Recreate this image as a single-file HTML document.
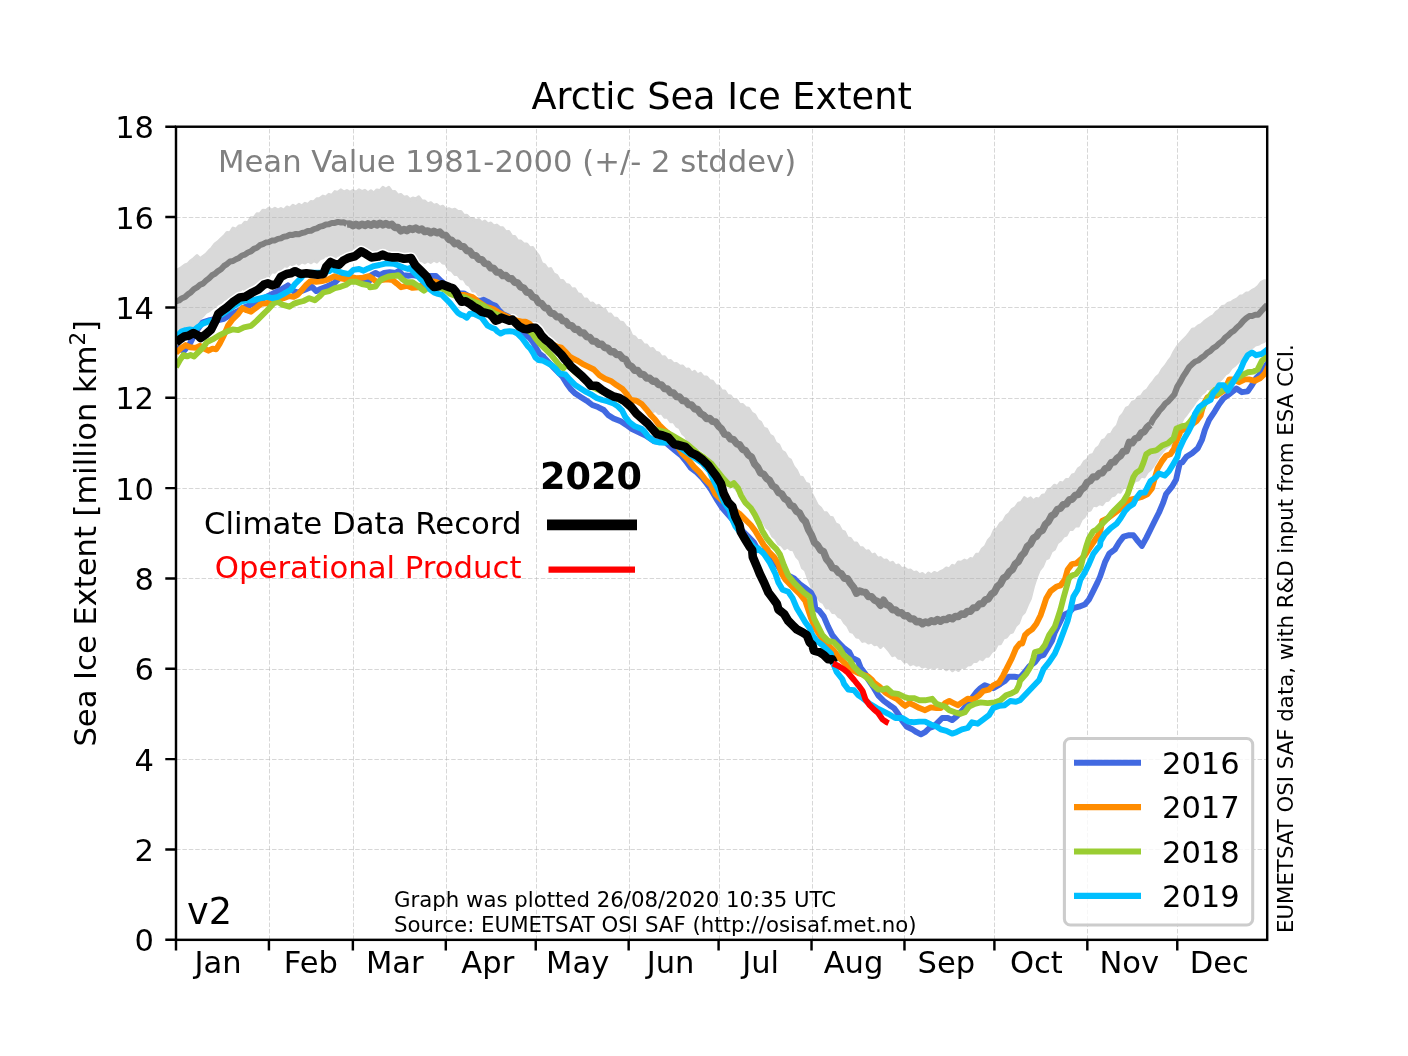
<!DOCTYPE html><html><head><meta charset="utf-8"><title>Arctic Sea Ice Extent</title><style>html,body{margin:0;padding:0;background:#fff}svg{display:block;will-change:transform}text{font-family:"DejaVu Sans","Liberation Sans",sans-serif}</style></head><body>
<svg width="1408" height="1056" viewBox="0 0 1408 1056">
<rect width="1408" height="1056" fill="#fff"/>
<defs><clipPath id="c"><rect x="176.00" y="126.72" width="1091.20" height="813.12"/></clipPath></defs>
<g clip-path="url(#c)">
<path d="M176.0 270.8 L179.0 269.0 L182.0 267.3 L185.0 265.0 L188.0 263.8 L191.0 260.6 L194.0 258.4 L197.0 255.6 L200.0 258.6 L203.0 256.4 L206.0 254.3 L209.0 250.9 L212.0 248.0 L215.0 244.0 L218.0 241.8 L221.0 238.9 L224.0 236.1 L227.0 232.5 L230.0 232.7 L233.0 228.1 L236.0 229.2 L239.0 226.0 L242.0 225.6 L244.9 222.2 L247.9 222.7 L250.9 217.8 L253.9 217.8 L256.9 213.8 L259.9 214.0 L262.9 210.2 L265.9 210.6 L268.9 208.3 L271.9 210.2 L274.9 208.3 L277.9 210.1 L280.9 208.6 L283.9 210.3 L286.9 207.0 L289.9 208.3 L292.9 205.2 L295.9 206.8 L298.9 204.3 L301.9 206.1 L304.9 203.3 L307.9 204.5 L310.9 201.5 L313.9 201.9 L316.9 198.8 L319.9 198.5 L322.9 196.1 L325.9 197.1 L328.9 194.3 L331.9 195.3 L334.9 191.6 L337.9 192.4 L340.9 189.9 L343.9 192.0 L346.9 190.6 L349.9 192.4 L352.9 190.4 L355.9 192.3 L358.9 189.9 L361.9 191.6 L364.9 190.3 L367.9 192.9 L370.9 190.8 L373.9 193.1 L376.9 189.9 L379.9 190.8 L382.8 187.4 L385.8 189.2 L388.8 187.4 L391.8 191.7 L394.8 191.5 L397.8 195.3 L400.8 194.4 L403.8 197.3 L406.8 196.6 L409.8 199.6 L412.8 198.0 L415.8 199.0 L418.8 196.8 L421.8 200.9 L424.8 201.0 L427.8 204.1 L430.8 202.7 L433.8 205.5 L436.8 204.5 L439.8 207.4 L442.8 206.2 L445.8 209.8 L448.8 208.7 L451.8 210.1 L454.8 209.2 L457.8 211.5 L460.8 211.4 L463.8 215.5 L466.8 215.3 L469.8 218.6 L472.8 218.5 L475.8 220.7 L478.8 219.6 L481.8 222.8 L484.8 221.1 L487.8 224.1 L490.8 223.0 L493.8 226.0 L496.8 225.1 L499.8 227.7 L502.8 227.8 L505.8 231.8 L508.8 231.5 L511.8 236.3 L514.8 236.6 L517.7 240.9 L520.7 241.1 L523.7 244.1 L526.7 243.9 L529.7 248.0 L532.7 247.5 L535.7 252.3 L538.7 256.0 L541.7 263.5 L544.7 264.9 L547.7 269.3 L550.7 268.6 L553.7 274.0 L556.7 275.3 L559.7 280.5 L562.7 280.4 L565.7 284.4 L568.7 285.0 L571.7 289.1 L574.7 288.8 L577.7 293.7 L580.7 294.5 L583.7 299.3 L586.7 299.1 L589.7 303.5 L592.7 303.1 L595.7 306.3 L598.7 305.3 L601.7 308.7 L604.7 309.1 L607.7 314.3 L610.7 314.1 L613.7 318.1 L616.7 318.3 L619.7 322.1 L622.7 322.4 L625.7 326.7 L628.7 328.5 L631.7 335.6 L634.7 336.8 L637.7 340.6 L640.7 340.5 L643.7 344.7 L646.7 345.1 L649.7 349.1 L652.7 348.4 L655.6 352.2 L658.6 353.0 L661.6 357.1 L664.6 356.7 L667.6 360.9 L670.6 360.6 L673.6 363.8 L676.6 363.5 L679.6 366.2 L682.6 365.9 L685.6 369.4 L688.6 368.9 L691.6 373.2 L694.6 371.4 L697.6 374.9 L700.6 373.4 L703.6 377.1 L706.6 376.9 L709.6 380.7 L712.6 381.3 L715.6 385.7 L718.6 386.0 L721.6 390.9 L724.6 390.9 L727.6 395.5 L730.6 396.0 L733.6 400.3 L736.6 400.2 L739.6 404.7 L742.6 404.4 L745.6 407.7 L748.6 408.3 L751.6 413.0 L754.6 414.7 L757.6 420.3 L760.6 422.2 L763.6 428.2 L766.6 429.2 L769.6 435.0 L772.6 436.7 L775.6 443.1 L778.6 444.7 L781.6 451.1 L784.6 452.8 L787.6 458.2 L790.5 460.0 L793.5 466.8 L796.5 470.4 L799.5 477.1 L802.5 477.6 L805.5 483.2 L808.5 484.1 L811.5 493.7 L814.5 499.5 L817.5 505.4 L820.5 507.9 L823.5 512.6 L826.5 512.8 L829.5 517.1 L832.5 517.8 L835.5 523.9 L838.5 525.1 L841.5 530.8 L844.5 531.9 L847.5 538.1 L850.5 538.5 L853.5 543.0 L856.5 542.9 L859.5 547.6 L862.5 547.7 L865.5 551.4 L868.5 550.8 L871.5 555.1 L874.5 554.1 L877.5 558.3 L880.5 557.6 L883.5 560.6 L886.5 560.1 L889.5 563.4 L892.5 562.3 L895.5 566.1 L898.5 565.0 L901.5 568.7 L904.5 567.9 L907.5 570.4 L910.5 570.0 L913.5 572.7 L916.5 572.0 L919.5 574.8 L922.5 573.5 L925.5 576.2 L928.4 573.0 L931.4 575.0 L934.4 572.5 L937.4 573.8 L940.4 571.7 L943.4 570.5 L946.4 568.0 L949.4 568.9 L952.4 565.3 L955.4 566.4 L958.4 561.9 L961.4 562.3 L964.4 560.1 L967.4 561.3 L970.4 558.5 L973.4 559.1 L976.4 554.3 L979.4 554.3 L982.4 548.8 L985.4 546.3 L988.4 540.2 L991.4 537.0 L994.4 530.1 L997.4 528.6 L1000.4 523.4 L1003.4 521.5 L1006.4 516.0 L1009.4 513.6 L1012.4 509.2 L1015.4 507.6 L1018.4 503.3 L1021.4 502.4 L1024.4 497.7 L1027.4 499.8 L1030.4 497.9 L1033.4 501.0 L1036.4 498.5 L1039.4 499.1 L1042.4 495.3 L1045.4 494.7 L1048.4 489.6 L1051.4 488.8 L1054.4 485.2 L1057.4 486.7 L1060.4 482.4 L1063.3 483.3 L1066.3 479.5 L1069.3 479.6 L1072.3 475.0 L1075.3 474.1 L1078.3 468.7 L1081.3 466.7 L1084.3 461.8 L1087.3 459.7 L1090.3 455.1 L1093.3 454.5 L1096.3 448.7 L1099.3 446.4 L1102.3 440.7 L1105.3 439.3 L1108.3 434.8 L1111.3 434.1 L1114.3 428.8 L1117.3 425.7 L1120.3 417.1 L1123.3 413.8 L1126.3 408.2 L1129.3 406.9 L1132.3 402.2 L1135.3 401.1 L1138.3 397.3 L1141.3 396.4 L1144.3 391.7 L1147.3 389.9 L1150.3 385.2 L1153.3 381.6 L1156.3 377.5 L1159.3 375.0 L1162.3 369.4 L1165.3 366.0 L1168.3 361.5 L1171.3 357.6 L1174.3 351.5 L1177.3 346.7 L1180.3 343.3 L1183.3 340.0 L1186.3 337.1 L1189.3 333.4 L1192.3 329.3 L1195.3 328.6 L1198.3 325.9 L1201.2 324.6 L1204.2 321.8 L1207.2 319.5 L1210.2 317.4 L1213.2 315.9 L1216.2 312.3 L1219.2 310.2 L1222.2 306.4 L1225.2 305.9 L1228.2 303.2 L1231.2 302.5 L1234.2 300.3 L1237.2 299.0 L1240.2 296.0 L1243.2 295.7 L1246.2 293.0 L1249.2 292.7 L1252.2 290.3 L1255.2 288.9 L1258.2 286.3 L1261.2 282.4 L1264.2 280.8 L1267.2 281.0 L1267.2 338.8 L1264.2 341.5 L1261.2 342.5 L1258.2 344.4 L1255.2 345.1 L1252.2 347.5 L1249.2 348.9 L1246.2 352.3 L1243.2 356.1 L1240.2 359.9 L1237.2 363.0 L1234.2 365.9 L1231.2 368.1 L1228.2 372.4 L1225.2 374.3 L1222.2 378.1 L1219.2 381.0 L1216.2 384.0 L1213.2 387.7 L1210.2 389.3 L1207.2 387.9 L1204.2 392.0 L1201.2 394.3 L1198.3 398.3 L1195.3 401.8 L1192.3 406.3 L1189.3 410.3 L1186.3 414.5 L1183.3 418.1 L1180.3 424.2 L1177.3 432.4 L1174.3 441.1 L1171.3 444.3 L1168.3 446.3 L1165.3 448.2 L1162.3 451.7 L1159.3 455.5 L1156.3 461.0 L1153.3 465.7 L1150.3 469.7 L1147.3 472.2 L1144.3 476.9 L1141.3 476.0 L1138.3 479.9 L1135.3 480.4 L1132.3 484.4 L1129.3 483.5 L1126.3 487.1 L1123.3 487.0 L1120.3 492.2 L1117.3 491.6 L1114.3 495.2 L1111.3 496.0 L1108.3 500.2 L1105.3 500.7 L1102.3 504.7 L1099.3 503.4 L1096.3 505.8 L1093.3 504.8 L1090.3 510.1 L1087.3 511.1 L1084.3 516.8 L1081.3 519.5 L1078.3 526.0 L1075.3 525.8 L1072.3 529.6 L1069.3 529.4 L1066.3 535.1 L1063.3 536.4 L1060.4 540.6 L1057.4 542.7 L1054.4 549.3 L1051.4 551.2 L1048.4 557.8 L1045.4 559.2 L1042.4 566.3 L1039.4 570.0 L1036.4 577.3 L1033.4 586.6 L1030.4 598.6 L1027.4 604.9 L1024.4 612.1 L1021.4 615.3 L1018.4 623.1 L1015.4 626.0 L1012.4 632.1 L1009.4 633.2 L1006.4 637.2 L1003.4 638.2 L1000.4 643.8 L997.4 644.1 L994.4 650.0 L991.4 651.8 L988.4 656.2 L985.4 656.2 L982.4 659.7 L979.4 658.3 L976.4 661.5 L973.4 661.3 L970.4 664.7 L967.4 664.9 L964.4 668.0 L961.4 666.7 L958.4 670.5 L955.4 668.4 L952.4 670.7 L949.4 667.7 L946.4 669.8 L943.4 667.1 L940.4 668.1 L937.4 666.3 L934.4 668.1 L931.4 667.0 L928.4 667.7 L925.5 665.9 L922.5 667.1 L919.5 664.3 L916.5 665.2 L913.5 663.3 L910.5 664.7 L907.5 661.2 L904.5 662.0 L901.5 658.6 L898.5 658.2 L895.5 654.6 L892.5 655.7 L889.5 651.4 L886.5 647.8 L883.5 644.4 L880.5 647.5 L877.5 644.1 L874.5 644.7 L871.5 641.8 L868.5 643.0 L865.5 640.8 L862.5 641.4 L859.5 637.4 L856.5 637.0 L853.5 632.7 L850.5 631.7 L847.5 625.6 L844.5 622.7 L841.5 617.8 L838.5 616.6 L835.5 612.7 L832.5 612.4 L829.5 608.0 L826.5 608.0 L823.5 602.8 L820.5 601.2 L817.5 597.0 L814.5 594.8 L811.5 586.3 L808.5 579.0 L805.5 570.4 L802.5 567.9 L799.5 559.6 L796.5 556.4 L793.5 549.8 L790.5 549.5 L787.6 546.8 L784.6 548.8 L781.6 545.1 L778.6 543.8 L775.6 538.5 L772.6 536.1 L769.6 529.9 L766.6 527.3 L763.6 521.9 L760.6 520.4 L757.6 514.5 L754.6 512.7 L751.6 507.1 L748.6 505.0 L745.6 499.5 L742.6 498.1 L739.6 491.8 L736.6 490.2 L733.6 484.9 L730.6 484.0 L727.6 479.0 L724.6 478.6 L721.6 472.6 L718.6 471.9 L715.6 466.5 L712.6 464.7 L709.6 459.8 L706.6 460.0 L703.6 455.2 L700.6 454.6 L697.6 449.9 L694.6 448.5 L691.6 444.0 L688.6 442.4 L685.6 436.1 L682.6 433.7 L679.6 427.7 L676.6 426.1 L673.6 421.7 L670.6 421.8 L667.6 417.1 L664.6 417.2 L661.6 413.0 L658.6 413.4 L655.6 410.1 L652.7 411.8 L649.7 408.9 L646.7 408.1 L643.7 403.7 L640.7 403.5 L637.7 398.8 L634.7 398.9 L631.7 395.3 L628.7 395.3 L625.7 390.6 L622.7 390.3 L619.7 385.6 L616.7 384.6 L613.7 380.6 L610.7 380.6 L607.7 377.4 L604.7 377.8 L601.7 374.0 L598.7 373.8 L595.7 370.3 L592.7 369.0 L589.7 365.7 L586.7 365.3 L583.7 361.6 L580.7 362.6 L577.7 358.4 L574.7 359.2 L571.7 355.3 L568.7 355.0 L565.7 351.7 L562.7 351.1 L559.7 346.2 L556.7 346.5 L553.7 341.6 L550.7 341.0 L547.7 335.9 L544.7 334.7 L541.7 330.2 L538.7 329.7 L535.7 326.0 L532.7 326.9 L529.7 323.0 L526.7 323.8 L523.7 321.6 L520.7 322.8 L517.7 319.1 L514.8 320.3 L511.8 317.4 L508.8 318.5 L505.8 315.3 L502.8 316.6 L499.8 313.1 L496.8 312.9 L493.8 307.4 L490.8 305.9 L487.8 300.8 L484.8 299.3 L481.8 295.0 L478.8 295.1 L475.8 290.7 L472.8 291.1 L469.8 285.6 L466.8 283.9 L463.8 279.0 L460.8 278.7 L457.8 274.6 L454.8 274.4 L451.8 270.5 L448.8 269.6 L445.8 263.5 L442.8 263.1 L439.8 259.5 L436.8 261.8 L433.8 260.0 L430.8 262.4 L427.8 260.7 L424.8 262.5 L421.8 260.2 L418.8 262.1 L415.8 260.6 L412.8 262.3 L409.8 259.6 L406.8 260.8 L403.8 258.6 L400.8 259.7 L397.8 257.2 L394.8 258.5 L391.8 255.8 L388.8 257.7 L385.8 254.9 L382.8 255.5 L379.9 252.6 L376.9 254.1 L373.9 251.8 L370.9 253.0 L367.9 250.8 L364.9 252.8 L361.9 251.7 L358.9 253.1 L355.9 252.4 L352.9 254.8 L349.9 253.2 L346.9 255.6 L343.9 254.2 L340.9 256.5 L337.9 254.6 L334.9 257.4 L331.9 255.3 L328.9 257.2 L325.9 255.1 L322.9 257.9 L319.9 258.7 L316.9 262.1 L313.9 260.6 L310.9 262.8 L307.9 260.9 L304.9 263.0 L301.9 261.8 L298.9 264.2 L295.9 261.9 L292.9 265.3 L289.9 263.5 L286.9 266.4 L283.9 265.7 L280.9 269.4 L277.9 269.0 L274.9 272.2 L271.9 271.7 L268.9 275.7 L265.9 275.9 L262.9 279.0 L259.9 279.1 L256.9 282.7 L253.9 283.2 L250.9 287.0 L247.9 286.5 L244.9 289.8 L242.0 288.1 L239.0 292.0 L236.0 291.8 L233.0 295.3 L230.0 295.7 L227.0 299.0 L224.0 299.4 L221.0 302.4 L218.0 303.9 L215.0 306.2 L212.0 308.6 L209.0 310.9 L206.0 312.3 L203.0 315.8 L200.0 318.3 L197.0 322.3 L194.0 324.6 L191.0 326.8 L188.0 326.8 L185.0 328.1 L182.0 328.3 L179.0 331.3 L176.0 333.7Z" fill="#d9d9d9" stroke="#d9d9d9" stroke-width="3.0" stroke-linejoin="round"/>
</g>
<path d="M269.5 939.84V126.72M353.5 939.84V126.72M446.5 939.84V126.72M536.5 939.84V126.72M629.5 939.84V126.72M719.5 939.84V126.72M812.5 939.84V126.72M904.5 939.84V126.72M994.5 939.84V126.72M1087.5 939.84V126.72M1177.5 939.84V126.72M176.00 849.5H1267.20M176.00 759.5H1267.20M176.00 669.5H1267.20M176.00 578.5H1267.20M176.00 488.5H1267.20M176.00 398.5H1267.20M176.00 307.5H1267.20M176.00 217.5H1267.20" stroke="#b0b0b0" stroke-opacity="0.5" stroke-width="1" stroke-dasharray="4.5 1.9" fill="none"/>
<g clip-path="url(#c)" fill="none" stroke-linejoin="round" stroke-linecap="butt">
<path d="M176.0 301.4 L179.0 300.5 L182.0 298.2 L185.0 297.0 L188.0 294.3 L191.0 292.2 L194.0 289.1 L197.0 287.4 L200.0 284.8 L203.0 283.6 L206.0 280.7 L209.0 278.4 L212.0 275.3 L215.0 273.8 L218.0 271.1 L221.0 269.2 L224.0 265.9 L227.0 264.1 L230.0 261.5 L233.0 261.0 L236.0 259.2 L239.0 257.9 L242.0 255.5 L244.9 254.6 L247.9 252.5 L250.9 251.4 L253.9 248.9 L256.9 247.7 L259.9 245.2 L262.9 244.2 L265.9 242.5 L268.9 242.1 L271.9 240.6 L274.9 240.4 L277.9 238.9 L280.9 238.4 L283.9 236.7 L286.9 236.3 L289.9 234.8 L292.9 234.9 L295.9 233.9 L298.9 234.2 L301.9 233.0 L304.9 232.4 L307.9 230.9 L310.9 230.8 L313.9 229.1 L316.9 228.4 L319.9 226.6 L322.9 226.0 L325.9 224.5 L328.9 224.3 L331.9 222.9 L334.9 222.9 L337.9 221.9 L340.9 222.5 L343.9 222.2 L346.9 224.1" stroke="#808080" stroke-width="6.0"/>
<path d="M346.9 224.1 L349.9 223.8 L352.9 225.7 L355.9 224.1 L358.9 225.8 L361.9 224.1 L364.9 225.6 L367.9 223.8 L370.9 225.4 L373.9 223.5 L376.9 225.0 L379.9 223.2 L382.8 225.0 L385.8 223.4 L388.8 225.2 L391.8 224.3 L394.8 227.5 L397.8 227.3 L400.8 230.9 L403.8 229.4 L406.8 230.8 L409.8 228.5 L412.8 229.5 L415.8 227.9 L418.8 230.0 L421.8 229.0 L424.8 231.7 L427.8 230.8 L430.8 232.9 L433.8 231.2 L436.8 232.9 L439.8 232.0 L442.8 235.0 L445.8 235.4 L448.8 239.4 L451.8 240.3 L454.8 243.8 L457.8 243.1 L460.8 246.4 L463.8 246.7 L466.8 250.6 L469.8 251.2 L472.8 255.2 L475.8 255.6 L478.8 259.3 L481.8 259.6 L484.8 263.4 L487.8 264.0 L490.8 267.9 L493.8 268.4 L496.8 272.2 L499.8 272.4 L502.8 275.7 L505.8 275.4 L508.8 278.6 L511.8 278.7 L514.8 282.4 L517.7 282.9 L520.7 287.0 L523.7 287.9 L526.7 292.1 L529.7 292.7 L532.7 296.8 L535.7 298.0 L538.7 302.8 L541.7 303.6 L544.7 307.6 L547.7 308.4 L550.7 313.1 L553.7 313.6 L556.7 316.9 L559.7 316.8 L562.7 320.7 L565.7 321.3 L568.7 325.3 L571.7 325.6 L574.7 329.3 L577.7 329.5 L580.7 332.9 L583.7 332.9 L586.7 336.6 L589.7 337.3 L592.7 341.2 L595.7 341.3 L598.7 344.4 L601.7 344.2 L604.7 347.7 L607.7 348.1 L610.7 351.8 L613.7 351.6 L616.7 354.7 L619.7 354.7 L622.7 358.4 L625.7 359.4 L628.7 365.1 L631.7 366.6 L634.7 370.4 L637.7 370.5 L640.7 374.2 L643.7 374.6 L646.7 378.2 L649.7 378.2 L652.7 381.3 L655.6 381.1 L658.6 384.6 L661.6 384.9 L664.6 388.7 L667.6 389.0 L670.6 392.7 L673.6 393.0 L676.6 396.7 L679.6 397.0 L682.6 400.7 L685.6 401.0 L688.6 404.7 L691.6 405.0 L694.6 408.8 L697.6 409.3 L700.6 413.6 L703.6 415.2 L706.6 418.7 L709.6 418.3 L712.6 421.5 L715.6 421.9 L718.6 426.2 L721.6 428.9 L724.6 434.3 L727.6 435.0 L730.6 439.0 L733.6 439.6 L736.6 443.7 L739.6 444.7 L742.6 449.4 L745.6 450.7 L748.6 455.2 L751.6 457.1 L754.6 464.0 L757.6 467.2 L760.6 473.1 L763.6 474.1 L766.6 478.4 L769.6 480.4 L772.6 485.9 L775.6 487.6 L778.6 492.6 L781.6 493.8 L784.6 498.6 L787.6 500.4 L790.5 505.3 L793.5 506.5 L796.5 511.3 L799.5 513.0 L802.5 518.6 L805.5 521.6 L808.5 529.8 L811.5 535.0 L814.5 542.6 L817.5 545.2 L820.5 550.1 L823.5 551.5 L826.5 559.2 L829.5 562.6 L832.5 568.0 L835.5 568.5 L838.5 572.5 L841.5 573.9 L844.5 578.4 L847.5 578.7 L850.5 583.5 L853.5 587.2 L856.5 593.3 L859.5 590.9 L862.5 592.0 L865.5 592.4 L868.5 596.6 L871.5 596.6 L874.5 600.1 L877.5 601.4 L880.5 605.4 L883.5 600.2 L886.5 604.7 L889.5 605.9 L892.5 609.8 L895.5 609.8 L898.5 612.9 L901.5 612.7 L904.5 615.9 L907.5 615.7 L910.5 618.9 L913.5 618.8 L916.5 621.9 L919.5 621.4 L922.5 623.8 L925.5 621.9 L928.4 622.9 L931.4 620.6 L934.4 621.7 L937.4 619.5 L940.4 621.3 L943.4 619.4 L946.4 619.7 L949.4 617.6 L952.4 618.9 L955.4 616.3 L958.4 616.7 L961.4 613.9 L964.4 614.4 L967.4 611.3 L970.4 611.3 L973.4 607.8 L976.4 607.6 L979.4 604.0 L982.4 603.7 L985.4 599.8 L988.4 598.9 L991.4 594.1 L994.4 592.1 L997.4 586.3 L1000.4 584.0 L1003.4 578.2 L1006.4 576.4 L1009.4 571.7 L1012.4 569.5 L1015.4 563.8 L1018.4 561.5 L1021.4 555.8 L1024.4 552.7 L1027.4 546.3 L1030.4 544.0 L1033.4 538.2 L1036.4 536.4 L1039.4 531.8 L1042.4 530.5 L1045.4 524.4 L1048.4 521.6 L1051.4 516.0 L1054.4 514.2 L1057.4 509.4 L1060.4 508.4 L1063.3 504.5 L1066.3 504.0 L1069.3 499.9 L1072.3 499.1 L1075.3 495.2 L1078.3 494.5 L1081.3 489.6 L1084.3 487.3 L1087.3 482.2 L1090.3 480.8 L1093.3 476.8 L1096.3 476.8 L1099.3 473.3 L1102.3 472.8 L1105.3 468.6 L1108.3 467.5 L1111.3 462.6 L1114.3 462.0 L1117.3 458.1 L1120.3 455.9 L1123.3 451.3 L1126.3 450.9 L1129.3 442.3 L1132.3 442.8 L1135.3 438.6 L1138.3 437.6 L1141.3 432.9 L1144.3 431.6 L1147.3 427.1 L1150.3 424.7" stroke="#808080" stroke-width="7.3"/>
<path d="M1150.3 424.7 L1153.3 418.8 L1156.3 415.2 L1159.3 410.8 L1162.3 407.6 L1165.3 403.7 L1168.3 401.3 L1171.3 398.0 L1174.3 394.6 L1177.3 386.6 L1180.3 381.8 L1183.3 376.1 L1186.3 371.7 L1189.3 366.9 L1192.3 364.1 L1195.3 361.5 L1198.3 360.5 L1201.2 357.9 L1204.2 356.0 L1207.2 352.9 L1210.2 351.1 L1213.2 348.1 L1216.2 346.4 L1219.2 343.4 L1222.2 341.3 L1225.2 337.6 L1228.2 335.3 L1231.2 332.3 L1234.2 330.6 L1237.2 327.2 L1240.2 324.7 L1243.2 321.0 L1246.2 318.2 L1249.2 316.1 L1252.2 316.0 L1255.2 314.8 L1258.2 314.7 L1261.2 311.2 L1264.2 307.9 L1267.2 305.0" stroke="#808080" stroke-width="6.0"/>
<path d="M176.0 342.9 L179.9 339.4 L184.2 336.5 L188.5 335.8 L193.4 333.0 L198.4 335.8 L200.5 338.0 L205.5 334.4 L211.2 329.4 L215.5 320.9 L218.3 313.8 L221.8 311.0 L226.8 307.4 L232.5 302.4 L239.6 297.5 L245.3 296.8 L252.4 292.5 L258.1 289.7 L263.8 284.7 L268.0 283.3 L272.3 285.4 L276.5 284.0 L280.8 276.9 L286.5 274.0 L290.7 273.3 L295.0 271.2 L300.7 274.0 L306.4 273.3 L312.0 274.0 L317.7 274.7 L323.4 274.0 L326.2 266.9 L330.5 262.0 L334.8 264.1 L339.0 264.8 L343.3 260.5 L349.0 257.7 L354.7 256.3 L361.1 251.3 L366.0 254.1 L371.3 257.4 L378.4 256.6 L382.7 254.5 L386.9 256.6 L392.6 257.4 L398.3 257.4 L404.0 258.8 L411.1 258.1 L415.3 265.2 L421.0 270.9 L426.7 276.5 L430.0 282.9 L434.0 286.9 L438.0 286.4 L441.9 284.4 L445.9 285.9 L449.9 287.4 L452.9 288.4 L455.9 291.9 L458.8 297.8 L461.8 301.8 L465.8 301.3 L469.8 303.8 L473.8 306.8 L477.7 308.8 L481.7 311.8 L485.7 312.8 L489.7 313.8 L492.6 316.7 L495.6 320.7 L498.6 319.7 L501.6 317.7 L505.6 319.2 L509.5 320.7 L512.5 319.7 L515.5 322.7 L519.5 326.7 L523.5 328.7 L527.4 329.2 L531.4 327.7 L535.4 327.7 L538.4 330.7 L541.4 335.6 L545.3 339.6 L549.3 342.6 L553.3 346.6 L557.3 350.5 L561.3 354.5 L565.2 359.5 L569.2 364.0 L571.0 366.6 L576.7 371.6 L582.4 376.6 L588.1 382.3 L590.9 385.8 L596.6 385.8 L602.3 390.1 L608.0 393.6 L613.6 396.5 L619.3 397.9 L625.0 401.4 L630.7 406.4 L636.4 413.5 L642.0 418.5 L647.7 423.5 L653.4 430.0 L657.0 434.1 L662.7 435.5 L668.4 437.6 L674.1 444.0 L679.8 445.5 L685.5 446.9 L691.1 452.6 L696.8 455.4 L702.5 459.7 L708.2 465.3 L712.4 471.0 L716.7 476.7 L721.0 483.8 L723.8 493.8 L728.1 502.3 L732.3 506.5 L735.2 516.5 L739.4 525.0 L740.9 532.1 L745.1 539.2 L749.4 546.3 L752.2 550.0 L752.8 557.0 L757.0 566.9 L759.9 574.0 L764.1 582.6 L768.4 592.5 L772.7 598.2 L776.9 603.9 L778.4 609.5 L784.0 613.8 L788.3 620.9 L792.6 625.2 L796.8 629.4 L802.5 632.3 L806.8 635.1 L809.6 642.2 L812.4 645.1 L813.9 650.7 L819.5 652.2 L823.8 655.0 L828.1 659.3 L832.3 659.3 L834.0 662.8" stroke="#fff" stroke-width="11.6"/>
<path d="M176.0 347.9 L179.9 349.3 L184.2 350.7 L189.9 343.6 L195.6 332.3 L202.7 322.3 L209.8 320.2 L212.6 319.5 L218.3 320.2 L224.0 318.8 L229.7 315.2 L236.8 311.7 L243.9 307.4 L249.5 305.3 L255.2 302.4 L263.8 298.2 L272.3 293.9 L280.8 289.7 L287.9 285.4 L293.6 291.1 L297.8 292.5 L304.9 289.7 L312.0 286.8 L316.3 291.1 L320.6 288.9 L326.2 286.8 L334.8 282.6 L340.5 276.9 L346.1 278.3 L354.7 279.7 L361.8 281.8 L368.9 281.8 L371.3 275.1 L375.6 273.0 L379.8 275.1 L384.1 273.0 L389.8 272.3 L395.5 273.0 L399.0 270.9 L402.6 275.1 L408.2 275.8 L412.5 275.1 L416.8 275.8 L423.9 276.5 L430.0 276.0 L436.0 276.0 L439.9 279.9 L445.9 284.9 L452.9 289.9 L459.8 293.4 L463.8 293.4 L469.8 296.8 L474.7 299.8 L479.7 300.8 L483.7 299.8 L487.7 301.8 L491.6 304.3 L495.6 305.8 L498.6 309.8 L502.6 313.8 L508.6 316.7 L514.5 321.7 L520.5 328.7 L525.5 334.6 L529.4 337.6 L533.4 342.6 L536.4 348.6 L539.4 353.5 L543.4 356.5 L544.0 357.4 L552.6 366.6 L562.5 376.6 L566.8 383.7 L571.0 389.4 L575.3 393.6 L581.0 397.2 L586.6 400.7 L592.3 405.0 L598.0 407.1 L603.7 410.0 L608.0 414.9 L613.6 418.5 L620.7 421.3 L626.4 424.9 L632.1 429.1 L645.7 435.5 L654.2 441.2 L665.6 442.6 L674.1 449.7 L681.2 455.4 L686.9 462.5 L691.1 468.2 L696.8 472.4 L702.5 478.1 L706.8 483.8 L711.0 489.5 L716.7 499.4 L722.4 508.0 L730.9 517.9 L739.4 527.8 L748.0 536.4 L753.6 542.0 L757.9 550.0 L768.4 552.7 L782.6 572.6 L794.0 578.3 L799.7 584.0 L805.3 588.2 L811.0 592.5 L813.9 598.2 L815.3 608.1 L819.5 611.0 L823.8 616.6 L828.1 626.6 L832.3 635.1 L838.0 642.2 L843.7 647.9 L849.4 652.2 L852.2 657.8 L857.9 660.7 L860.7 667.8 L865.0 673.5 L867.8 677.7 L868.3 679.7 L874.0 688.2 L878.2 695.3 L883.9 701.0 L889.6 705.2 L893.9 708.1 L898.1 713.8 L902.4 720.9 L906.6 726.5 L912.3 729.4 L916.6 732.2 L920.9 734.3 L925.1 732.2 L929.4 728.0 L933.6 726.5 L937.9 722.3 L942.2 718.0 L947.8 718.0 L952.1 720.1 L956.4 716.6 L962.0 710.9 L967.7 703.8 L972.0 698.1 L976.2 692.4 L980.5 688.2 L984.8 685.3 L989.0 686.8 L993.3 688.2 L1000.4 683.9 L1004.7 681.1 L1008.9 676.8 L1014.6 676.8 L1020.0 677.5 L1023.6 673.5 L1029.3 666.4 L1034.9 662.1 L1039.2 656.4 L1043.5 655.0 L1047.7 647.9 L1052.0 640.8 L1054.8 632.3 L1059.1 623.8 L1063.4 615.2 L1069.0 612.4 L1073.3 608.1 L1079.0 606.7 L1084.7 604.6 L1088.9 599.6 L1093.2 591.1 L1097.4 582.6 L1100.0 576.9 L1105.0 562.2 L1109.3 553.7 L1114.9 549.4 L1119.2 542.3 L1123.5 536.6 L1129.1 535.2 L1133.4 535.2 L1137.7 540.9 L1141.9 545.9 L1146.2 538.1 L1150.5 529.5 L1154.7 521.0 L1159.0 512.5 L1163.2 502.6 L1166.1 494.0 L1171.8 486.9 L1176.0 479.8 L1178.9 467.0 L1180.0 462.8 L1182.2 462.4 L1186.4 456.8 L1192.1 453.2 L1197.8 448.2 L1202.0 439.7 L1204.9 429.8 L1209.1 419.8 L1214.8 411.3 L1219.1 404.2 L1223.4 398.5 L1229.0 394.3 L1234.7 390.0 L1236.4 388.6 L1242.0 392.2 L1247.7 391.4 L1252.0 385.1 L1256.2 378.0 L1259.1 375.1 L1263.4 369.4 L1268.3 362.3" stroke="#4169e1" stroke-width="5.9"/>
<path d="M176.0 352.9 L181.4 347.9 L185.6 345.1 L189.9 347.2 L195.6 347.9 L199.8 345.8 L204.1 348.6 L208.4 350.7 L212.6 348.6 L216.2 349.3 L219.7 343.6 L224.0 335.1 L228.2 325.2 L232.5 319.5 L238.2 313.8 L242.4 308.1 L246.7 310.3 L251.0 311.7 L256.6 307.4 L260.9 303.9 L266.6 303.2 L272.3 301.0 L278.0 299.6 L283.6 298.2 L289.3 296.1 L293.6 296.8 L297.8 294.6 L302.1 289.7 L306.4 284.7 L310.6 281.1 L316.3 281.8 L322.0 281.1 L327.7 279.7 L334.8 276.2 L340.5 278.3 L344.7 279.0 L350.4 276.9 L357.5 278.3 L363.2 277.6 L368.9 276.2 L372.7 278.7 L377.0 282.2 L381.2 280.1 L386.9 279.4 L392.6 280.1 L396.9 283.6 L401.1 287.2 L406.8 285.8 L412.5 287.9 L418.2 287.2 L422.4 285.1 L430.0 280.9 L436.0 281.9 L442.9 285.9 L451.9 290.9 L459.8 294.9 L463.8 294.9 L467.8 295.9 L471.8 296.8 L474.7 298.8 L479.7 302.8 L485.7 306.8 L489.7 307.8 L493.6 309.3 L497.6 311.8 L501.6 313.8 L509.5 317.7 L517.5 320.7 L521.5 321.7 L525.5 321.7 L529.4 323.7 L535.4 329.7 L541.4 336.6 L547.3 341.6 L553.3 344.6 L557.3 346.6 L561.3 347.6 L565.2 351.5 L569.2 356.0 L571.0 357.4 L576.7 360.3 L582.4 363.8 L588.1 366.6 L593.8 369.5 L599.4 375.2 L605.1 378.7 L610.8 380.9 L616.5 385.1 L622.2 388.7 L626.4 393.6 L630.7 400.0 L636.4 400.7 L642.0 404.3 L646.3 409.3 L650.6 414.9 L654.8 419.2 L659.1 424.9 L663.4 429.1 L665.6 431.2 L671.2 435.5 L676.9 445.5 L682.6 454.0 L688.3 459.7 L694.0 466.8 L699.7 472.4 L705.3 479.5 L711.0 485.2 L715.3 493.8 L721.0 499.4 L730.9 508.0 L739.4 513.6 L745.1 519.3 L750.8 525.0 L755.1 530.7 L759.3 537.8 L763.6 544.9 L767.8 550.0 L768.4 551.3 L774.1 557.0 L778.4 564.1 L781.2 572.6 L785.5 579.7 L791.1 585.4 L799.7 593.9 L805.3 601.0 L808.2 609.5 L811.0 618.1 L815.3 628.0 L822.4 639.4 L828.1 645.1 L833.8 650.7 L839.4 657.8 L845.1 663.5 L850.8 669.2 L859.3 673.5 L867.8 676.3 L872.1 680.0 L874.0 682.5 L879.7 686.8 L885.3 692.4 L891.0 696.0 L896.7 698.8 L902.4 703.8 L905.2 705.9 L909.5 703.1 L913.8 705.2 L919.4 708.1 L925.1 710.2 L930.8 707.4 L936.5 708.1 L940.7 708.1 L945.0 703.1 L949.3 701.0 L953.5 703.1 L957.8 705.2 L962.0 702.4 L967.7 698.8 L973.4 699.5 L979.1 695.3 L983.4 691.0 L989.0 689.6 L993.3 685.3 L999.0 682.5 L1003.2 675.4 L1007.5 666.9 L1011.8 658.4 L1016.0 648.4 L1020.0 643.4 L1022.2 643.6 L1025.0 635.1 L1027.8 632.3 L1032.1 629.4 L1036.4 623.8 L1040.6 615.2 L1043.5 606.7 L1046.3 598.2 L1050.6 591.1 L1056.2 586.8 L1060.5 585.4 L1064.8 579.7 L1067.6 569.8 L1071.9 564.1 L1076.1 563.4 L1080.4 559.8 L1084.7 555.6 L1090.3 547.0 L1096.0 538.5 L1100.0 532.8 L1102.2 521.0 L1107.8 518.2 L1113.5 513.9 L1119.2 509.7 L1124.9 504.0 L1130.6 499.7 L1136.2 498.3 L1141.9 496.9 L1147.6 494.0 L1151.9 488.4 L1154.7 478.4 L1157.6 468.5 L1161.8 461.4 L1166.1 455.7 L1170.3 454.3 L1173.2 450.0 L1173.6 449.7 L1176.5 441.1 L1180.7 431.2 L1185.0 428.4 L1190.7 425.5 L1196.4 421.2 L1200.6 415.6 L1203.5 404.2 L1207.7 397.1 L1216.2 395.7 L1220.5 392.8 L1224.8 390.0 L1229.3 379.4 L1233.5 379.4 L1239.2 382.2 L1244.9 379.4 L1249.1 379.4 L1254.8 380.8 L1260.5 378.0 L1264.8 373.7 L1268.3 366.6" stroke="#ff8c00" stroke-width="5.9"/>
<path d="M176.0 367.1 L179.9 360.0 L183.5 355.0 L187.0 356.4 L190.6 355.0 L194.1 356.4 L198.4 352.2 L202.7 347.9 L206.9 342.2 L212.6 339.4 L219.7 335.1 L226.8 331.6 L232.5 329.4 L238.2 330.1 L243.9 327.3 L251.0 325.9 L256.6 320.9 L262.3 315.2 L268.0 309.5 L273.7 303.2 L278.0 301.7 L282.2 304.6 L289.3 306.7 L293.6 303.9 L297.8 302.4 L303.5 301.0 L309.2 298.2 L314.9 300.3 L319.1 296.8 L323.4 292.5 L329.1 291.1 L334.8 288.2 L340.5 286.8 L346.1 284.7 L350.4 281.8 L356.1 281.8 L361.8 284.0 L368.9 285.4 L369.9 287.2 L375.6 286.5 L379.1 281.5 L382.7 278.7 L388.4 276.5 L394.0 275.8 L398.3 275.1 L402.6 279.4 L406.8 282.2 L412.5 282.2 L416.8 285.1 L421.0 288.6 L423.9 290.7 L427.4 287.9 L430.0 283.9 L438.0 286.9 L445.9 290.4 L449.9 293.7 L457.8 296.8 L464.8 297.3 L469.8 299.8 L473.8 301.8 L477.7 302.8 L481.7 304.8 L485.7 307.3 L493.6 312.8 L501.6 316.7 L509.5 319.7 L519.5 325.7 L527.4 329.7 L532.4 333.6 L535.4 338.1 L539.4 343.1 L543.4 347.1 L547.3 351.0 L551.3 355.0 L555.3 360.0 L559.3 365.0 L563.2 368.4 L566.8 364.5 L573.9 370.9 L582.4 378.0 L590.9 386.5 L602.3 391.5 L613.6 397.2 L625.0 402.4 L636.4 414.2 L647.7 424.2 L656.2 430.0 L659.9 430.5 L665.6 432.0 L671.2 434.8 L678.4 439.1 L686.9 444.0 L696.8 452.6 L703.9 457.5 L711.0 463.2 L716.7 470.3 L722.4 477.4 L728.1 483.8 L730.9 485.2 L733.8 483.1 L738.0 488.1 L740.9 495.2 L745.1 502.3 L750.8 508.0 L755.1 515.1 L759.3 523.6 L762.2 530.7 L766.4 537.8 L772.1 544.9 L776.4 549.1 L779.8 554.1 L784.0 565.5 L788.3 575.5 L794.0 582.6 L798.2 586.8 L803.9 592.5 L809.6 596.8 L811.0 606.7 L813.9 618.1 L818.1 626.6 L822.4 635.1 L828.1 640.8 L833.8 642.2 L839.4 647.9 L843.7 655.0 L849.4 659.3 L853.6 666.4 L859.3 672.0 L865.0 676.3 L869.3 680.0 L872.6 684.6 L878.2 689.6 L882.5 689.6 L886.8 688.2 L892.4 693.2 L898.1 693.9 L903.8 696.7 L908.1 698.1 L913.8 698.1 L919.4 700.3 L925.1 700.3 L932.2 698.8 L936.5 703.8 L940.7 705.2 L945.0 706.6 L949.3 710.2 L954.9 712.3 L960.6 713.8 L964.9 712.3 L969.1 706.6 L974.8 703.8 L980.5 702.4 L987.6 703.1 L994.7 702.4 L1000.4 700.3 L1006.1 695.3 L1011.8 693.2 L1016.0 691.0 L1018.9 685.3 L1020.0 681.1 L1020.7 680.0 L1026.4 673.5 L1030.7 666.4 L1033.5 657.8 L1034.9 652.2 L1040.6 650.7 L1044.9 645.1 L1049.1 635.1 L1054.8 626.6 L1057.7 618.1 L1060.5 609.5 L1063.4 598.2 L1066.2 588.2 L1069.0 578.3 L1071.9 575.5 L1076.1 574.0 L1080.4 568.4 L1083.2 557.0 L1086.1 547.0 L1088.9 538.5 L1093.2 531.4 L1096.0 530.0 L1103.6 522.4 L1107.8 518.2 L1112.1 512.5 L1117.8 506.8 L1123.5 501.1 L1127.7 494.0 L1130.6 485.5 L1133.4 477.0 L1136.2 472.7 L1140.5 469.9 L1143.4 462.8 L1146.2 454.3 L1150.5 451.4 L1154.7 450.7 L1156.8 450.0 L1162.3 445.4 L1168.0 443.3 L1173.6 438.3 L1176.5 428.4 L1182.2 426.2 L1186.4 425.5 L1189.3 422.7 L1193.5 417.0 L1197.8 412.7 L1202.0 408.5 L1207.7 398.5 L1212.0 392.8 L1214.8 390.0 L1217.9 393.6 L1222.2 390.7 L1226.4 386.5 L1232.1 382.2 L1237.8 378.0 L1242.0 375.1 L1247.7 372.3 L1253.4 371.6 L1257.7 369.4 L1261.9 360.9 L1268.3 355.2" stroke="#9acd32" stroke-width="5.9"/>
<path d="M176.0 337.2 L181.4 331.6 L185.6 330.1 L189.9 329.4 L194.1 330.1 L198.4 326.6 L202.7 323.8 L209.8 320.9 L215.5 320.9 L219.7 315.9 L226.8 311.0 L233.9 306.0 L241.0 301.7 L246.7 300.3 L252.4 300.3 L258.1 298.9 L266.6 296.8 L272.3 298.2 L278.0 296.8 L283.6 293.9 L290.7 289.7 L295.0 284.0 L300.7 278.3 L304.9 273.3 L312.0 272.6 L320.6 272.6 L329.1 271.2 L331.8 269.0 L336.4 270.7 L343.2 273.0 L348.9 274.1 L353.4 269.8 L359.1 269.0 L363.6 270.7 L368.2 268.4 L373.9 266.1 L379.5 265.0 L386.4 263.3 L394.3 263.9 L398.9 265.6 L403.4 267.5 L408.0 269.0 L409.7 268.0 L413.9 272.3 L421.0 279.4 L428.1 286.5 L430.0 289.4 L434.0 292.4 L438.0 293.9 L441.9 294.9 L445.9 298.8 L449.9 302.8 L453.9 307.8 L457.8 312.8 L460.8 314.7 L463.8 315.7 L466.8 317.7 L469.8 313.8 L473.8 313.8 L477.7 315.7 L481.7 317.7 L484.7 321.7 L487.7 325.7 L491.6 327.7 L494.6 328.7 L497.6 331.6 L500.6 333.6 L504.6 331.6 L509.5 331.2 L513.5 331.6 L517.5 333.6 L521.5 337.6 L524.5 341.6 L527.4 345.6 L530.4 348.6 L533.4 353.5 L535.4 357.5 L538.4 360.0 L542.4 360.5 L546.3 362.5 L550.3 364.5 L553.3 366.5 L556.3 369.4 L559.3 373.4 L565.3 374.5 L569.6 379.4 L575.3 385.1 L581.0 388.7 L586.6 392.2 L590.9 394.3 L596.6 397.9 L602.3 400.0 L608.0 401.4 L613.6 403.6 L617.9 406.4 L622.2 410.7 L625.0 416.4 L629.3 422.0 L634.9 426.3 L642.0 429.1 L644.3 431.2 L648.5 436.9 L654.2 441.2 L659.9 442.6 L665.6 442.6 L672.7 441.2 L679.8 447.6 L688.3 453.3 L695.4 458.2 L702.5 463.2 L709.6 471.0 L713.9 481.0 L719.5 492.3 L724.1 502.3 L729.5 510.1 L731.6 517.9 L735.5 526.4 L739.4 531.4 L745.8 537.1 L752.2 544.9 L757.2 550.0 L758.5 548.5 L764.1 554.1 L769.8 562.7 L775.5 574.0 L778.4 582.6 L782.6 589.7 L788.3 591.8 L792.6 598.2 L796.8 608.1 L801.1 615.2 L805.3 622.3 L809.6 628.0 L812.4 635.1 L816.7 640.8 L822.4 645.1 L826.6 649.3 L830.9 653.6 L833.8 664.9 L836.6 672.0 L842.3 679.1 L844.1 683.9 L848.4 689.6 L854.1 690.3 L858.4 695.3 L862.6 698.1 L869.7 703.8 L876.8 708.1 L882.5 710.9 L888.2 713.8 L895.3 718.0 L902.4 718.0 L908.1 721.6 L913.8 722.3 L919.4 721.6 L925.1 721.6 L930.8 724.4 L936.5 726.5 L940.7 729.4 L946.4 730.8 L952.1 733.6 L956.4 732.2 L962.0 729.4 L967.7 728.0 L972.0 722.3 L977.7 723.7 L983.4 719.4 L989.0 715.2 L993.3 708.1 L999.0 705.9 L1004.7 705.2 L1010.3 701.0 L1016.0 701.7 L1020.0 700.3 L1039.2 680.0 L1043.5 669.2 L1049.1 662.1 L1054.8 653.6 L1059.1 643.6 L1063.4 632.3 L1067.6 620.9 L1070.5 609.5 L1073.3 596.8 L1077.6 589.7 L1080.4 579.7 L1084.7 572.6 L1088.9 564.1 L1093.2 554.1 L1097.4 548.5 L1100.0 545.6 L1100.7 540.9 L1105.0 533.8 L1110.7 528.1 L1116.4 523.9 L1120.6 518.2 L1124.9 511.1 L1129.1 506.8 L1133.4 504.0 L1136.2 498.3 L1140.5 492.6 L1144.8 492.6 L1147.6 486.9 L1150.5 481.2 L1156.1 477.0 L1159.0 473.4 L1164.7 475.6 L1168.9 471.3 L1173.2 464.2 L1177.4 457.1 L1178.9 450.0 L1183.6 439.7 L1187.8 432.6 L1192.1 424.1 L1194.9 414.1 L1199.2 407.0 L1204.9 402.8 L1210.6 399.9 L1213.4 392.8 L1216.2 390.0 L1219.3 385.1 L1223.6 385.1 L1227.8 390.7 L1232.1 383.6 L1236.4 376.5 L1240.6 369.4 L1243.5 362.3 L1247.7 355.2 L1252.0 352.4 L1256.2 355.2 L1261.9 353.8 L1268.3 348.8" stroke="#00bfff" stroke-width="5.9"/>
<path d="M176.0 342.9 L179.9 339.4 L184.2 336.5 L188.5 335.8 L193.4 333.0 L198.4 335.8 L200.5 338.0 L205.5 334.4 L211.2 329.4 L215.5 320.9 L218.3 313.8 L221.8 311.0 L226.8 307.4 L232.5 302.4 L239.6 297.5 L245.3 296.8 L252.4 292.5 L258.1 289.7 L263.8 284.7 L268.0 283.3 L272.3 285.4 L276.5 284.0 L280.8 276.9 L286.5 274.0 L290.7 273.3 L295.0 271.2 L300.7 274.0 L306.4 273.3 L312.0 274.0 L317.7 274.7 L323.4 274.0 L326.2 266.9 L330.5 262.0 L334.8 264.1 L339.0 264.8 L343.3 260.5 L349.0 257.7 L354.7 256.3 L361.1 251.3 L366.0 254.1 L371.3 257.4 L378.4 256.6 L382.7 254.5 L386.9 256.6 L392.6 257.4 L398.3 257.4 L404.0 258.8 L411.1 258.1 L415.3 265.2 L421.0 270.9 L426.7 276.5 L430.0 282.9 L434.0 286.9 L438.0 286.4 L441.9 284.4 L445.9 285.9 L449.9 287.4 L452.9 288.4 L455.9 291.9 L458.8 297.8 L461.8 301.8 L465.8 301.3 L469.8 303.8 L473.8 306.8 L477.7 308.8 L481.7 311.8 L485.7 312.8 L489.7 313.8 L492.6 316.7 L495.6 320.7 L498.6 319.7 L501.6 317.7 L505.6 319.2 L509.5 320.7 L512.5 319.7 L515.5 322.7 L519.5 326.7 L523.5 328.7 L527.4 329.2 L531.4 327.7 L535.4 327.7 L538.4 330.7 L541.4 335.6 L545.3 339.6 L549.3 342.6 L553.3 346.6 L557.3 350.5 L561.3 354.5 L565.2 359.5 L569.2 364.0 L571.0 366.6 L576.7 371.6 L582.4 376.6 L588.1 382.3 L590.9 385.8 L596.6 385.8 L602.3 390.1 L608.0 393.6 L613.6 396.5 L619.3 397.9 L625.0 401.4 L630.7 406.4 L636.4 413.5 L642.0 418.5 L647.7 423.5 L653.4 430.0 L657.0 434.1 L662.7 435.5 L668.4 437.6 L674.1 444.0 L679.8 445.5 L685.5 446.9 L691.1 452.6 L696.8 455.4 L702.5 459.7 L708.2 465.3 L712.4 471.0 L716.7 476.7 L721.0 483.8 L723.8 493.8 L728.1 502.3 L732.3 506.5 L735.2 516.5 L739.4 525.0 L740.9 532.1 L745.1 539.2 L749.4 546.3 L752.2 550.0 L752.8 557.0 L757.0 566.9 L759.9 574.0 L764.1 582.6 L768.4 592.5 L772.7 598.2 L776.9 603.9 L778.4 609.5 L784.0 613.8 L788.3 620.9 L792.6 625.2 L796.8 629.4 L802.5 632.3 L806.8 635.1 L809.6 642.2 L812.4 645.1 L813.9 650.7 L819.5 652.2 L823.8 655.0 L828.1 659.3 L832.3 659.3 L834.0 662.8" stroke="#000" stroke-width="8.6"/>
<path d="M833.0 663.5 L838.0 665.7 L843.7 669.2 L848.0 672.8 L851.5 677.0 L854.1 680.0 L858.4 685.3 L862.6 691.0 L865.5 699.5 L869.7 705.2 L874.0 709.5 L878.2 713.0 L882.5 719.4 L886.8 722.3 L888.6 723.1" stroke="#f00" stroke-width="5.9"/>
</g>
<rect x="176.00" y="126.72" width="1091.20" height="813.12" fill="none" stroke="#000" stroke-width="2.44"/>
<path d="M176.00 939.84v10.7M268.93 939.84v10.7M352.87 939.84v10.7M445.80 939.84v10.7M535.74 939.84v10.7M628.67 939.84v10.7M718.60 939.84v10.7M811.53 939.84v10.7M904.47 939.84v10.7M994.40 939.84v10.7M1087.33 939.84v10.7M1177.27 939.84v10.7M176.00 939.84h-10.7M176.00 849.49h-10.7M176.00 759.15h-10.7M176.00 668.80h-10.7M176.00 578.45h-10.7M176.00 488.11h-10.7M176.00 397.76h-10.7M176.00 307.41h-10.7M176.00 217.07h-10.7M176.00 126.72h-10.7" stroke="#000" stroke-width="2.44" fill="none"/>
<text x="154" y="951.4" font-size="30.56" text-anchor="end">0</text>
<text x="154" y="861.1" font-size="30.56" text-anchor="end">2</text>
<text x="154" y="770.7" font-size="30.56" text-anchor="end">4</text>
<text x="154" y="680.4" font-size="30.56" text-anchor="end">6</text>
<text x="154" y="590.1" font-size="30.56" text-anchor="end">8</text>
<text x="154" y="499.7" font-size="30.56" text-anchor="end">10</text>
<text x="154" y="409.4" font-size="30.56" text-anchor="end">12</text>
<text x="154" y="319.0" font-size="30.56" text-anchor="end">14</text>
<text x="154" y="228.7" font-size="30.56" text-anchor="end">16</text>
<text x="154" y="138.3" font-size="30.56" text-anchor="end">18</text>
<text x="218.0" y="973" font-size="30.56" text-anchor="middle">Jan</text>
<text x="310.9" y="973" font-size="30.56" text-anchor="middle">Feb</text>
<text x="394.8" y="973" font-size="30.56" text-anchor="middle">Mar</text>
<text x="487.8" y="973" font-size="30.56" text-anchor="middle">Apr</text>
<text x="577.7" y="973" font-size="30.56" text-anchor="middle">May</text>
<text x="670.6" y="973" font-size="30.56" text-anchor="middle">Jun</text>
<text x="760.6" y="973" font-size="30.56" text-anchor="middle">Jul</text>
<text x="853.5" y="973" font-size="30.56" text-anchor="middle">Aug</text>
<text x="946.4" y="973" font-size="30.56" text-anchor="middle">Sep</text>
<text x="1036.4" y="973" font-size="30.56" text-anchor="middle">Oct</text>
<text x="1129.3" y="973" font-size="30.56" text-anchor="middle">Nov</text>
<text x="1219.2" y="973" font-size="30.56" text-anchor="middle">Dec</text>
<text x="721.6" y="108.5" font-size="36.67" text-anchor="middle">Arctic Sea Ice Extent</text>
<text transform="translate(96,533.3) rotate(-90)" font-size="30.56" text-anchor="middle">Sea Ice Extent [million km<tspan dy="-11" font-size="21.4">2</tspan><tspan dy="11">]</tspan></text>
<text x="218" y="171.5" font-size="30.68" fill="#808080">Mean Value 1981-2000 (+/- 2 stddev)</text>
<text x="642" y="489" font-size="36.67" font-weight="bold" text-anchor="end">2020</text>
<text x="521.5" y="534" font-size="30.75" text-anchor="end">Climate Data Record</text>
<text x="521.5" y="578.2" font-size="30.72" fill="#f00" text-anchor="end">Operational Product</text>
<path d="M547 524.8H637" stroke="#000" stroke-width="10.7"/>
<path d="M548.5 569.6H635" stroke="#f00" stroke-width="6.1"/>
<text x="187" y="924" font-size="36.67">v2</text>
<text x="394" y="907" font-size="21.27">Graph was plotted 26/08/2020 10:35 UTC</text>
<text x="394" y="932" font-size="21.3">Source: EUMETSAT OSI SAF (http://osisaf.met.no)</text>
<text transform="translate(1293,933) rotate(-90)" font-size="21.3">EUMETSAT OSI SAF data, with R&amp;D input from ESA CCI.</text>
<rect x="1064.4" y="738.5" width="188.3" height="186.5" rx="6" ry="6" fill="#fff" fill-opacity="0.8" stroke="#ccc" stroke-width="3.06"/>
<path d="M1074 762.7H1141" stroke="#4169e1" stroke-width="6.1"/>
<text x="1162" y="774.0" font-size="30.56">2016</text>
<path d="M1074 807.1H1141" stroke="#ff8c00" stroke-width="6.1"/>
<text x="1162" y="818.4" font-size="30.56">2017</text>
<path d="M1074 851.5H1141" stroke="#9acd32" stroke-width="6.1"/>
<text x="1162" y="862.8" font-size="30.56">2018</text>
<path d="M1074 895.9H1141" stroke="#00bfff" stroke-width="6.1"/>
<text x="1162" y="907.2" font-size="30.56">2019</text>
</svg></body></html>
